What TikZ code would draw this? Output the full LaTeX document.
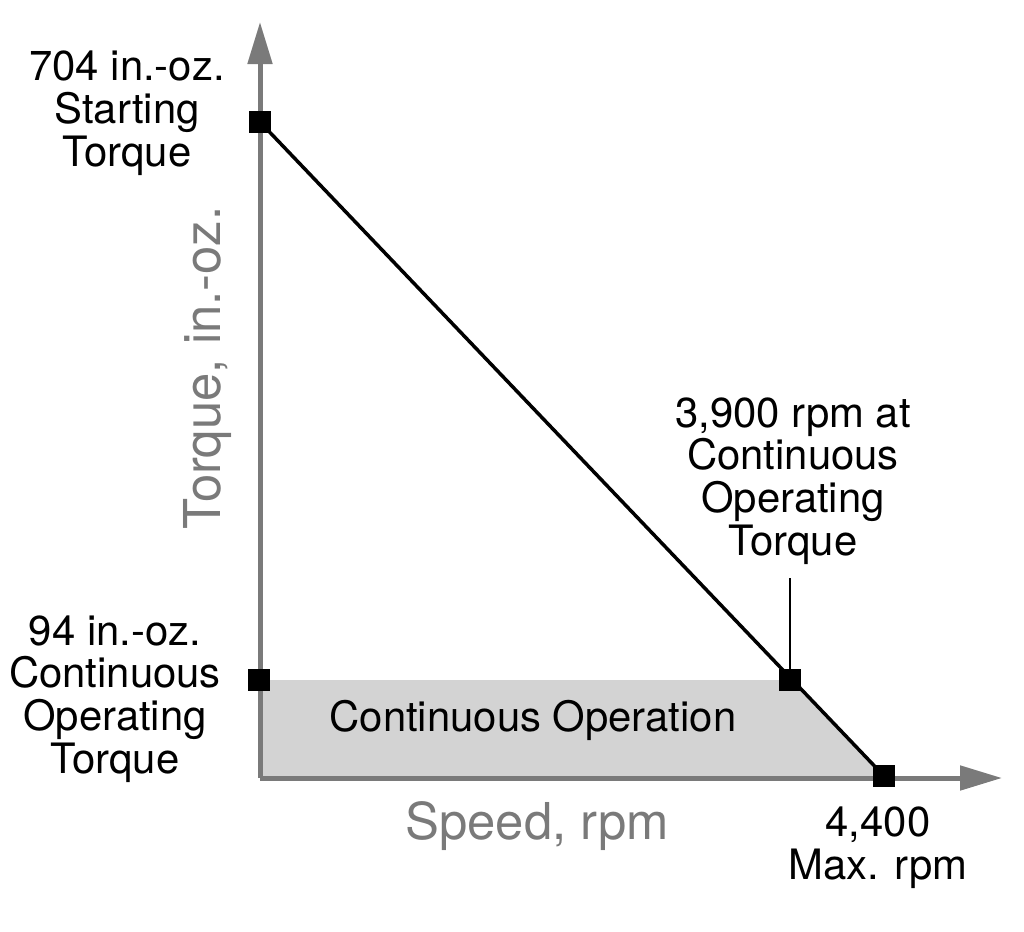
\documentclass[tikz,border=0pt]{standalone}
\usepackage{fontspec}
\setmainfont{TeX Gyre Heros}
\usetikzlibrary{arrows.meta}
\begin{document}
\begin{tikzpicture}[x=1bp,y=-1bp,
  lbl/.style={align=center,font=\fontsize{42}{43}\selectfont,inner sep=0},
  glbl/.style={font=\fontsize{51}{56}\selectfont,text=axisgray,inner sep=0},
  mk/.style={fill=black,minimum size=22bp,inner sep=0}]
\definecolor{axisgray}{HTML}{7A7A7A}
\definecolor{regiongray}{HTML}{D3D3D3}
\useasboundingbox (0,0) rectangle (1024,932);
\coordinate (o) at (260,778);
\coordinate (ytip) at (260,22);
\coordinate (xtip) at (1002,778);
\node[mk] (s) at (260,122) {};
\node[mk] (c) at (259,680) {};
\node[mk] (p) at (790,680) {};
\node[mk] (m) at (884,776) {};
\fill[regiongray] (c.center) -- (p.center) -- (m.center) -- (o) -- cycle;
\draw[axisgray,line width=5bp,-{Triangle[length=42bp,width=24bp]}] (o) -- (ytip);
\draw[axisgray,line width=5bp,-{Triangle[length=42bp,width=24bp]}] (o) -- (xtip);
\draw[line width=3.5bp] (s.center) -- (m.center);
\node[mk] at (s) {};\node[mk] at (c) {};\node[mk] at (p) {};\node[mk] at (m) {};
\coordinate (lt) at (790,578);
\draw[line width=2.5bp] (lt) -- (p);
\node[lbl] (l1) at (127,113) {704 in.-oz.\\Starting\\Torque};
\node[lbl] (l2) at (115,699) {94 in.-oz.\\Continuous\\Operating\\Torque};
\node[lbl] (l3) at (793,481) {3,900 rpm at\\Continuous\\Operating\\Torque};
\node[lbl] (l4) at (878,848) {4,400\\Max. rpm};
\node[lbl] (r) at (533,720) {Continuous Operation};
\node[glbl] (sx) at (537,826) {Speed, rpm};
\node[glbl,rotate=90] (ty) at (208,368) {Torque, in.-oz.};
\end{tikzpicture}
\end{document}
